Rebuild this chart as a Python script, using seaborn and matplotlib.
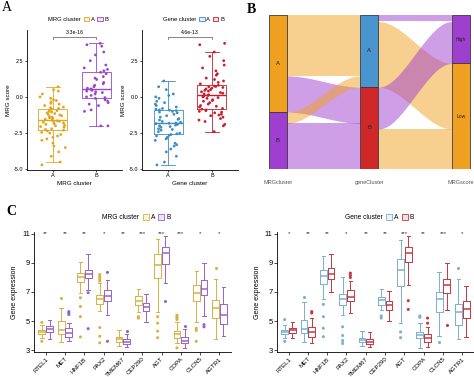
import numpy as np
import pandas as pd
import matplotlib
matplotlib.use("Agg")
import matplotlib.pyplot as plt
from matplotlib.patches import Patch
import seaborn as sns

# panel A: MRG score of each sample, split by cluster
mrg_a_scores = [-4.7, -4.5, -4.1, -3.8, -3.5, -3.4, -3.2, -3.0, -2.9, -2.8, -2.7, -2.6, -2.5, -2.45, -2.35,
                -2.3, -2.25, -2.2, -2.1, -2.05, -2.0, -1.95, -1.9, -1.85, -1.8, -1.75, -1.7, -1.68, -1.65, -1.6,
                -1.55, -1.5, -1.45, -1.4, -1.35, -1.3, -1.25, -1.2, -1.15, -1.1, -1.05, -1.0, -0.95, -0.9, -0.85,
                -0.8, -0.75, -0.7, -0.6, -0.5, -0.45, -0.35, -0.25, -0.2, -0.1, 0.0, 0.2, 0.4, 0.5, 0.7]
mrg_b_scores = [-2.0, -2.0, -1.0, -0.9, -0.6, -0.5, -0.4, -0.3, -0.2, -0.1,
                -0.05, 0.0, 0.1, 0.2, 0.3, 0.35, 0.4, 0.45, 0.5, 0.55,
                0.6, 0.7, 0.8, 0.9, 1.0, 1.2, 1.3, 1.4, 1.6, 1.7,
                1.8, 1.9, 2.0, 2.2, 2.5, 2.9, 3.1, 3.5, 3.6, 3.7]
gene_a_scores = [-4.7, -4.5, -4.1, -3.8, -3.6, -3.4, -3.3, -3.2, -3.0, -2.9, -2.8, -2.7, -2.65, -2.6,
                 -2.55, -2.5, -2.4, -2.3, -2.25, -2.2, -2.1, -2.05, -2.0, -1.95, -1.9, -1.85, -1.82, -1.8,
                 -1.75, -1.7, -1.6, -1.55, -1.5, -1.4, -1.3, -1.2, -1.1, -1.05, -1.0, -0.95, -0.92, -0.9,
                 -0.85, -0.8, -0.7, -0.6, -0.5, -0.4, -0.3, -0.1, 0.0, 0.1, 0.2, 0.5, 0.7, 1.1]
gene_b_scores = [-2.4, -2.0, -1.9, -1.7, -1.6, -1.5, -1.4, -1.3, -1.25, -1.2, -1.1, -1.05, -1.0, -0.95, -0.9,
                 -0.85, -0.8, -0.7, -0.65, -0.6, -0.5, -0.4, -0.3, -0.25, -0.2, -0.1, -0.05, 0.0, 0.05, 0.1,
                 0.15, 0.2, 0.25, 0.3, 0.35, 0.4, 0.45, 0.5, 0.55, 0.6, 0.65, 0.7, 0.72, 0.75, 0.8,
                 0.9, 1.0, 1.1, 1.2, 1.3, 1.5, 1.6, 1.8, 2.0, 2.2, 2.5, 2.8, 3.1, 3.6, 3.7]
mrg_pvalue = "3.3e-16"
gene_pvalue = "4.6e-13"

# panel B: sample counts along the alluvial plot
mrg_levels = ["A", "B"]
gene_levels = ["A", "B"]
score_levels = ["High", "Low"]
axis_names = ["MRGcluster", "geneCluster", "MRGscore"]
flow1_from = ["A", "A", "B", "B"]
flow1_to = ["A", "B", "A", "B"]
flow1_n = [54, 32, 10, 40]
flow2_from = ["A", "A", "B", "B"]
flow2_to = ["High", "Low", "High", "Low"]
flow2_n = [6, 58, 37, 35]

# panel C: gene expression boxes (whisker low, Q1, median, Q3, whisker high) and outliers
genes = ["RTEL1", "MET", "HNF1B", "PAX2", "TMEM67", "CEP290", "AGT", "COPA", "CLCN5", "AGTR1"]
mrg_box_a = [[3.85, 4.1, 4.22, 4.38, 4.75], [3.55, 4.08, 4.38, 5.0, 5.9], [6.9, 7.7, 8.05, 8.3, 9.05],
             [5.7, 6.2, 6.55, 6.8, 7.6], [3.3, 3.55, 3.73, 3.92, 4.35], [5.6, 6.1, 6.4, 6.7, 7.2],
             [5.6, 7.95, 8.85, 9.65, 10.65], [3.45, 3.82, 4.1, 4.3, 4.95], [4.9, 6.35, 6.9, 7.5, 8.45],
             [3.75, 5.2, 5.9, 6.45, 7.9]]
mrg_box_b = [[3.75, 4.22, 4.45, 4.68, 5.1], [3.6, 3.92, 4.2, 4.5, 4.85], [7.15, 7.95, 8.27, 8.5, 9.6],
             [5.4, 6.35, 6.7, 7.12, 7.85], [3.2, 3.42, 3.57, 3.76, 4.08], [4.95, 5.7, 5.97, 6.25, 6.85],
             [7.6, 8.95, 9.72, 10.12, 10.85], [3.15, 3.47, 3.65, 3.9, 4.45], [5.35, 6.8, 7.2, 7.8, 9.0],
             [4.0, 4.8, 5.4, 6.15, 7.35]]
mrg_out_a = [[4.9, 3.6], [6.6], [6.6, 6.0, 5.3, 3.9], [8.2, 8.05, 7.9, 7.75, 4.55, 3.95, 3.5], [],
             [5.3, 5.2], [5.3, 4.85, 4.3, 3.85], [5.4, 5.3, 5.2, 5.1, 3.15], [4.5, 4.35, 3.6], [8.68]]
mrg_out_b = [[], [5.45, 5.55, 5.65], [6.95, 4.47], [8.35, 3.6], [4.3], [], [6.4], [4.68], [4.75, 4.6], []]
mrg_stars = ["**", "**", "**", "*", "**", "***", "***", "***", "*", "*"]

gene_box_a = [[3.8, 4.08, 4.23, 4.38, 4.7], [3.55, 4.15, 4.42, 5.05, 6.3], [6.5, 7.55, 8.08, 8.5, 9.5],
              [5.4, 6.1, 6.55, 6.85, 8.0], [3.3, 3.53, 3.7, 3.85, 4.3], [5.75, 6.1, 6.45, 6.68, 7.2],
              [4.85, 7.4, 8.55, 9.3, 10.6], [3.15, 3.8, 4.05, 4.25, 4.85], [4.0, 5.65, 6.5, 7.0, 8.35],
              [3.75, 4.75, 5.62, 6.2, 7.9]]
gene_box_b = [[3.8, 4.15, 4.35, 4.5, 4.95], [3.5, 3.92, 4.25, 4.56, 5.2], [7.0, 7.9, 8.25, 8.68, 9.6],
              [5.53, 6.38, 6.68, 7.12, 7.76], [3.2, 3.42, 3.57, 3.76, 4.25], [5.0, 5.75, 6.1, 6.4, 7.05],
              [7.5, 9.1, 9.72, 10.12, 10.85], [3.2, 3.57, 3.8, 4.08, 4.6], [5.75, 6.9, 7.5, 7.9, 9.0],
              [3.9, 5.2, 5.8, 6.38, 7.4]]
gene_out_a = [[5.1, 3.6], [6.63], [6.15, 5.3, 4.5, 3.92], [4.6, 4.0, 3.65, 3.45], [], [5.35, 5.2],
              [4.25, 3.85], [5.35, 5.25], [3.55], [8.68]]
gene_out_b = [[], [5.65, 5.55], [], [8.3, 8.15, 8.0], [], [], [6.4, 5.8], [5.2, 4.85], [4.75], []]
gene_stars = ["*", "**", "**", "*", "**", "**", "***", "**", "***", "*"]

MRG_COLORS = ["#E3A61B", "#9B45CC"]
GENE_COLORS = ["#3D8CC4", "#C81E2B"]
MRG_C_COLORS = ["#D9B040", "#9A5FCF"]
GENE_C_COLORS = ["#7AAFD3", "#C7373D"]

plt.rcParams["font.family"] = ["Liberation Sans", "DejaVu Sans"]
plt.rcParams["axes.linewidth"] = 0.6

W, H = 474, 377
fig = plt.figure(figsize=(W / 100, H / 100), dpi=100)


def box(px_left, px_top, px_right, px_bottom):
    return [px_left / W, 1 - px_bottom / H, (px_right - px_left) / W, (px_bottom - px_top) / H]


def tint(ax, alpha):
    for p in ax.patches:
        ec = p.get_edgecolor()
        p.set_facecolor((ec[0], ec[1], ec[2], alpha))


def top_legend(ax, title, colors, x, y, size):
    handles = [Patch(facecolor="none", edgecolor="none")]
    handles += [Patch(facecolor=(*matplotlib.colors.to_rgb(c), 0.15), edgecolor=c, linewidth=0.6) for c in colors]
    ax.legend(handles, [title, "A", "B"], ncol=3, loc="center", bbox_to_anchor=(x, y),
              bbox_transform=fig.transFigure, frameon=False, fontsize=size,
              handlelength=0.9, handleheight=0.9, handletextpad=0.3, columnspacing=0.5,
              borderpad=0, borderaxespad=0)


# ---------------- panel A ----------------
def score_panel(rect, a_vals, b_vals, colors, xlabel, title, pval, legend_x):
    ax = fig.add_axes(rect)
    df = pd.DataFrame({"cluster": ["A"] * len(a_vals) + ["B"] * len(b_vals),
                       "score": a_vals + b_vals})
    sns.boxplot(data=df, x="cluster", y="score", hue="cluster", palette=colors, fill=False,
                width=0.67, showfliers=False, linewidth=0.6, medianprops={"linewidth": 1.0},
                legend=False, ax=ax)
    tint(ax, 0.15)
    sns.stripplot(data=df, x="cluster", y="score", hue="cluster", palette=colors, jitter=0.3,
                  size=2.0, linewidth=0, legend=False, ax=ax)
    ax.plot([0, 0, 1, 1], [4.0, 4.17, 4.17, 4.0], color="#555555", lw=0.5)
    ax.text(0.5, 4.3, pval, ha="center", va="bottom", fontsize=3.8)
    ax.set_xlim(-0.6, 1.6)
    ax.set_ylim(-5.05, 4.62)
    ax.set_yticks([-5.0, -2.5, 0.0, 2.5])
    ax.set_yticklabels(["-5.0", "-2.5", "0.0", "2.5"])
    ax.tick_params(labelsize=4, length=1.5, width=0.5, pad=1)
    ax.set_xlabel(xlabel, fontsize=4.5, labelpad=1.5)
    ax.set_ylabel("MRG score", fontsize=4.5, labelpad=2)
    sns.despine(ax=ax)
    top_legend(ax, title, colors, legend_x, 1 - 19.3 / H, 4.2)


np.random.seed(7)
score_panel(box(27, 30, 122, 170), mrg_a_scores, mrg_b_scores, MRG_COLORS,
            "MRG cluster", "MRG cluster", mrg_pvalue, 74.5 / W)
score_panel(box(142, 30, 238, 170), gene_a_scores, gene_b_scores, GENE_COLORS,
            "Gene cluster", "Gene cluster", gene_pvalue, 190 / W)

# ---------------- panel B ----------------
axB = fig.add_axes(box(264, 14.7, 474.5, 168.7))
total = sum(flow1_n)
half = 0.1
fill_of = {"A": "#F0A020", "B": "#9E3FD0", "High": "#9E3FD0", "Low": "#F0A020"}
stratum_colors = [{"A": "#F0A020", "B": "#9E3FD0"},
                  {"A": "#4A94D0", "B": "#D02828"},
                  {"High": "#9E3FD0", "Low": "#F0A020"}]


def stratum_tops(levels, names, counts):
    sizes = [sum(n for k, n in zip(names, counts) if k == lv) for lv in levels]
    tops, y = {}, total
    for lv, s in zip(levels, sizes):
        tops[lv] = (y, s)
        y -= s
    return tops


s0 = stratum_tops(mrg_levels, flow1_from, flow1_n)
s1 = stratum_tops(gene_levels, flow1_to, flow1_n)
s2 = stratum_tops(score_levels, flow2_to, flow2_n)


def draw_flows(x0, src, dst, counts, left_tops, right_tops, left_order, right_order):
    left_cur = {k: v[0] for k, v in left_tops.items()}
    right_cur = {k: v[0] for k, v in right_tops.items()}
    segs = {}
    for i in sorted(range(len(counts)), key=lambda i: (left_order.index(src[i]), right_order.index(dst[i]))):
        segs[i] = [left_cur[src[i]]]
        left_cur[src[i]] -= counts[i]
    for i in sorted(range(len(counts)), key=lambda i: (right_order.index(dst[i]), left_order.index(src[i]))):
        segs[i].append(right_cur[dst[i]])
        right_cur[dst[i]] -= counts[i]
    xs = np.linspace(x0 + half, x0 + 1 - half, 80)
    t = (xs - xs[0]) / (xs[-1] - xs[0])
    s = t * t * (3 - 2 * t)
    for i in range(len(counts)):
        yl, yr = segs[i]
        top = yl + (yr - yl) * s
        axB.fill_between(xs, top - counts[i], top, color=fill_of[dst[i]], alpha=0.5, lw=0)


draw_flows(0, flow1_from, flow1_to, flow1_n, s0, s1, mrg_levels, gene_levels)
draw_flows(1, flow2_from, flow2_to, flow2_n, s1, s2, gene_levels, score_levels)

for xi, strata in enumerate([s0, s1, s2]):
    for lv, (top, size) in strata.items():
        axB.bar(xi, size, bottom=top - size, width=2 * half, color=stratum_colors[xi][lv],
                edgecolor="#3a3a3a", linewidth=0.6)
        axB.text(xi, top - size / 2, lv, ha="center", va="center", fontsize=3.6 if xi == 2 else 4.2,
                 color="#222222")
axB.set_xlim(-0.15, 2.15)
axB.set_ylim(0, total)
axB.set_xticks([0, 1, 2])
axB.set_xticklabels(axis_names, fontsize=4, color="#555555")
axB.tick_params(axis="x", length=0, pad=8)
axB.set_yticks([])
for sp in axB.spines.values():
    sp.set_visible(False)


# ---------------- panel C ----------------
def expr_panel(rect, box_a, box_b, out_a, out_b, stars, colors, title, legend_x):
    ax = fig.add_axes(rect)
    rows = []
    for g, va, vb in zip(genes, box_a, box_b):
        rows += [(g, "A", v) for v in va] + [(g, "B", v) for v in vb]
    df = pd.DataFrame(rows, columns=["gene", "group", "value"])
    orows = []
    for g, oa, ob in zip(genes, out_a, out_b):
        orows += [(g, "A", v) for v in oa] + [(g, "B", v) for v in ob]
    odf = pd.DataFrame(orows, columns=["gene", "group", "value"])
    sns.boxplot(data=df, x="gene", y="value", hue="group", order=genes, hue_order=["A", "B"],
                palette=colors, fill=False, width=0.8, gap=0.12, whis=(0, 100), showfliers=False,
                linewidth=0.7, medianprops={"linewidth": 1.1}, legend=False, ax=ax)
    tint(ax, 0.08)
    sns.stripplot(data=odf, x="gene", y="value", hue="group", order=genes, hue_order=["A", "B"],
                  palette=colors, dodge=True, jitter=False, size=2.2, linewidth=0, legend=False, ax=ax)
    for i, st in enumerate(stars):
        ax.text(i, 11.0, st, ha="center", va="center", fontsize=4.5, color="#333333")
    ax.set_xlim(-0.6, 9.6)
    ax.set_ylim(2.85, 11.15)
    ax.set_yticks([3, 5, 7, 9, 11])
    ax.set_xticks(range(len(genes)))
    ax.set_xticklabels(genes, rotation=45, ha="right", rotation_mode="anchor", fontsize=4.4)
    ax.tick_params(axis="y", labelsize=5.5, length=2, width=0.5, pad=1)
    ax.tick_params(axis="x", length=2, width=0.5, pad=1)
    ax.set_xlabel("")
    ax.set_ylabel("Gene expression", fontsize=5, labelpad=3)
    sns.despine(ax=ax)
    top_legend(ax, title, colors, legend_x, 1 - 217.7 / H, 4.8)


expr_panel(box(34.1, 231.8, 231.0, 352.2), mrg_box_a, mrg_box_b, mrg_out_a, mrg_out_b,
           mrg_stars, MRG_C_COLORS, "MRG cluster", 132.6 / W)
expr_panel(box(277, 231.8, 473.9, 352.2), gene_box_a, gene_box_b, gene_out_a, gene_out_b,
           gene_stars, GENE_C_COLORS, "Gene cluster", 375.5 / W)

# panel letters
fig.text(2 / W, 1 - 1 / H, "A", fontsize=10, family="Liberation Serif", va="top")
fig.text(247 / W, 1 - 3 / H, "B", fontsize=10, family="Liberation Serif", fontweight="bold", va="top")
fig.text(6 / W, 1 - 205 / H, "C", fontsize=10, family="Liberation Serif", fontweight="bold", va="top")

fig.savefig("out.png", dpi=100)
